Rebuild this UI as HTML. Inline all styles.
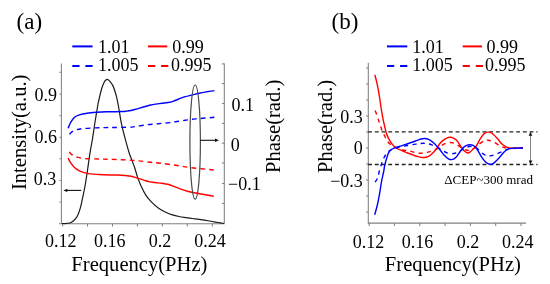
<!DOCTYPE html>
<html><head><meta charset="utf-8"><title>Plot</title><style>html,body{margin:0;padding:0;background:#fff;width:550px;height:284px;overflow:hidden}svg{display:block}</style></head><body><svg width="550" height="284" viewBox="0 0 550 284"><rect width="550" height="284" fill="#fff"/><g stroke="#808080" stroke-width="1.05" fill="none"><line x1="61.4" y1="63.5" x2="61.4" y2="224" /><line x1="59" y1="223.7" x2="224.8" y2="223.7" /><line x1="224.3" y1="63.5" x2="224.3" y2="223.9" /><line x1="59.5" y1="72.3" x2="61.4" y2="72.3" /><line x1="59.5" y1="94.1" x2="61.4" y2="94.1" /><line x1="59.5" y1="115.7" x2="61.4" y2="115.7" /><line x1="59.5" y1="137.3" x2="61.4" y2="137.3" /><line x1="59.5" y1="158.8" x2="61.4" y2="158.8" /><line x1="59.5" y1="180.4" x2="61.4" y2="180.4" /><line x1="59.5" y1="202.0" x2="61.4" y2="202.0" /><line x1="62.6" y1="223.7" x2="62.6" y2="226.6" /><line x1="87.5" y1="223.7" x2="87.5" y2="226.6" /><line x1="112.5" y1="223.7" x2="112.5" y2="226.6" /><line x1="137.4" y1="223.7" x2="137.4" y2="226.6" /><line x1="162.4" y1="223.7" x2="162.4" y2="226.6" /><line x1="187.3" y1="223.7" x2="187.3" y2="226.6" /><line x1="212.3" y1="223.7" x2="212.3" y2="226.6" /><line x1="221.9" y1="63.9" x2="224.3" y2="63.9" /><line x1="221.9" y1="83.6" x2="224.3" y2="83.6" /><line x1="221.9" y1="103.5" x2="224.3" y2="103.5" /><line x1="221.9" y1="123.3" x2="224.3" y2="123.3" /><line x1="221.9" y1="143.2" x2="224.3" y2="143.2" /><line x1="221.9" y1="163.0" x2="224.3" y2="163.0" /><line x1="221.9" y1="183.5" x2="224.3" y2="183.5" /><line x1="221.9" y1="203.4" x2="224.3" y2="203.4" /><line x1="368.3" y1="62.7" x2="368.3" y2="223.6" /><line x1="367.8" y1="223.1" x2="526" y2="223.1" /><line x1="366" y1="68.0" x2="368.3" y2="68.0" /><line x1="366" y1="84.0" x2="368.3" y2="84.0" /><line x1="366" y1="100.0" x2="368.3" y2="100.0" /><line x1="366" y1="116.0" x2="368.3" y2="116.0" /><line x1="366" y1="132.0" x2="368.3" y2="132.0" /><line x1="366" y1="148.0" x2="368.3" y2="148.0" /><line x1="366" y1="164.0" x2="368.3" y2="164.0" /><line x1="366" y1="180.0" x2="368.3" y2="180.0" /><line x1="366" y1="196.0" x2="368.3" y2="196.0" /><line x1="366" y1="212.1" x2="368.3" y2="212.1" /><line x1="369.2" y1="223.1" x2="369.2" y2="226.0" /><line x1="394.5" y1="223.1" x2="394.5" y2="226.0" /><line x1="419.8" y1="223.1" x2="419.8" y2="226.0" /><line x1="445.1" y1="223.1" x2="445.1" y2="226.0" /><line x1="470.4" y1="223.1" x2="470.4" y2="226.0" /><line x1="495.7" y1="223.1" x2="495.7" y2="226.0" /><line x1="521.0" y1="223.1" x2="521.0" y2="226.0" /></g><path d="M62.00 223.50 C62.67 223.50 64.72 223.58 66.00 223.50 C67.28 223.42 68.43 223.45 69.70 223.00 C70.97 222.55 72.32 221.97 73.60 220.80 C74.88 219.63 76.28 218.10 77.40 216.00 C78.52 213.90 79.38 211.43 80.30 208.20 C81.22 204.97 82.08 200.47 82.90 196.60 C83.72 192.73 84.45 189.30 85.20 185.00 C85.95 180.70 86.77 175.02 87.40 170.80 C88.03 166.58 88.48 163.18 89.00 159.70 C89.52 156.22 89.95 153.18 90.50 149.90 C91.05 146.62 91.58 144.40 92.30 140.00 C93.02 135.60 94.08 128.10 94.80 123.50 C95.52 118.90 96.07 115.65 96.60 112.40 C97.13 109.15 97.60 106.15 98.00 104.00 C98.40 101.85 98.58 101.33 99.00 99.50 C99.42 97.67 99.95 95.12 100.50 93.00 C101.05 90.88 101.58 88.77 102.30 86.80 C103.02 84.83 103.97 82.45 104.80 81.20 C105.63 79.95 106.48 79.30 107.30 79.30 C108.12 79.30 108.78 80.15 109.70 81.20 C110.62 82.25 111.97 84.05 112.80 85.60 C113.63 87.15 114.08 88.65 114.70 90.50 C115.32 92.35 115.85 93.95 116.50 96.70 C117.15 99.45 117.75 102.38 118.60 107.00 C119.45 111.62 120.28 118.28 121.60 124.40 C122.92 130.52 125.18 138.77 126.50 143.70 C127.82 148.63 128.62 151.28 129.50 154.00 C130.38 156.72 130.93 157.70 131.80 160.00 C132.67 162.30 133.73 164.90 134.70 167.80 C135.67 170.70 136.47 174.18 137.60 177.40 C138.73 180.62 140.05 184.02 141.50 187.10 C142.95 190.18 144.53 193.32 146.30 195.90 C148.07 198.48 150.00 200.52 152.10 202.60 C154.20 204.68 156.63 206.80 158.90 208.40 C161.17 210.00 163.43 211.12 165.70 212.20 C167.97 213.28 170.28 214.18 172.50 214.90 C174.72 215.62 176.75 216.05 179.00 216.50 C181.25 216.95 183.75 217.27 186.00 217.60 C188.25 217.93 190.30 218.20 192.50 218.50 C194.70 218.80 196.98 219.08 199.20 219.40 C201.42 219.72 203.62 220.05 205.80 220.40 C207.98 220.75 210.27 221.15 212.30 221.50 C214.33 221.85 216.05 222.17 218.00 222.50 C219.95 222.83 223.00 223.33 224.00 223.50" fill="none" stroke="#1a1a1a" stroke-width="1.2" stroke-linejoin="round"/><path d="M68.10 128.20 C68.53 127.23 69.63 124.23 70.70 122.40 C71.77 120.57 73.05 118.47 74.50 117.20 C75.95 115.93 77.30 115.47 79.40 114.80 C81.50 114.13 84.20 113.62 87.10 113.20 C90.00 112.78 93.57 112.53 96.80 112.30 C100.03 112.07 103.47 111.90 106.50 111.80 C109.53 111.70 112.48 111.75 115.00 111.70 C117.52 111.65 119.77 111.58 121.60 111.50 C123.43 111.42 124.43 111.37 126.00 111.20 C127.57 111.03 129.12 110.90 131.00 110.50 C132.88 110.10 135.22 109.38 137.30 108.80 C139.38 108.22 141.45 107.58 143.50 107.00 C145.55 106.42 147.57 105.78 149.60 105.30 C151.63 104.82 153.63 104.43 155.70 104.10 C157.77 103.77 159.95 103.57 162.00 103.30 C164.05 103.03 166.17 102.83 168.00 102.50 C169.83 102.17 171.20 101.88 173.00 101.30 C174.80 100.72 176.77 99.77 178.80 99.00 C180.83 98.23 183.08 97.35 185.20 96.70 C187.32 96.05 189.15 95.68 191.50 95.10 C193.85 94.52 196.73 93.75 199.30 93.20 C201.87 92.65 204.38 92.23 206.90 91.80 C209.42 91.37 213.15 90.80 214.40 90.60" fill="none" stroke="#0000ff" stroke-width="1.4" stroke-linejoin="round"/><path d="M68.10 136.20 C68.68 135.52 70.20 133.17 71.60 132.10 C73.00 131.03 74.57 130.38 76.50 129.80 C78.43 129.22 80.13 128.92 83.20 128.60 C86.27 128.28 91.27 128.07 94.90 127.90 C98.53 127.73 101.65 127.67 105.00 127.60 C108.35 127.53 110.93 127.57 115.00 127.50 C119.07 127.43 126.07 127.35 129.40 127.20 C132.73 127.05 132.13 127.00 135.00 126.60 C137.87 126.20 142.72 125.28 146.60 124.80 C150.48 124.32 154.42 124.07 158.30 123.70 C162.18 123.33 166.78 122.97 169.90 122.60 C173.02 122.23 174.48 121.88 177.00 121.50 C179.52 121.12 182.50 120.68 185.00 120.30 C187.50 119.92 189.72 119.48 192.00 119.20 C194.28 118.92 194.97 118.92 198.70 118.60 C202.43 118.28 211.78 117.52 214.40 117.30" fill="none" stroke="#0000ff" stroke-width="1.4" stroke-linejoin="round" stroke-dasharray="4.8 4.1" stroke-dashoffset="6.6"/><path d="M68.10 149.90 C68.68 150.65 70.05 153.18 71.60 154.40 C73.15 155.62 75.13 156.50 77.40 157.20 C79.67 157.90 81.65 158.30 85.20 158.60 C88.75 158.90 94.57 158.88 98.70 159.00 C102.83 159.12 104.88 159.12 110.00 159.30 C115.12 159.48 124.58 159.83 129.40 160.10 C134.22 160.37 135.38 160.53 138.90 160.90 C142.42 161.27 146.98 161.92 150.50 162.30 C154.02 162.68 155.78 162.70 160.00 163.20 C164.22 163.70 170.53 164.55 175.80 165.30 C181.07 166.05 185.27 166.92 191.60 167.70 C197.93 168.48 210.10 169.62 213.80 170.00" fill="none" stroke="#ff0000" stroke-width="1.4" stroke-linejoin="round" stroke-dasharray="4.8 4.1" stroke-dashoffset="6.6"/><path d="M68.10 158.20 C68.53 158.98 69.63 161.33 70.70 162.90 C71.77 164.47 73.05 166.27 74.50 167.60 C75.95 168.93 77.30 169.93 79.40 170.90 C81.50 171.87 83.88 172.80 87.10 173.40 C90.32 174.00 94.88 174.23 98.70 174.50 C102.52 174.77 106.78 174.92 110.00 175.00 C113.22 175.08 115.50 174.92 118.00 175.00 C120.50 175.08 122.78 175.28 125.00 175.50 C127.22 175.72 129.37 175.92 131.30 176.30 C133.23 176.68 134.42 177.13 136.60 177.80 C138.78 178.47 142.13 179.62 144.40 180.30 C146.67 180.98 147.93 181.47 150.20 181.90 C152.47 182.33 156.03 182.67 158.00 182.90 C159.97 183.13 160.35 183.07 162.00 183.30 C163.65 183.53 165.60 183.67 167.90 184.30 C170.20 184.93 173.17 186.13 175.80 187.10 C178.43 188.07 181.07 189.25 183.70 190.10 C186.33 190.95 188.43 191.52 191.60 192.20 C194.77 192.88 199.00 193.52 202.70 194.20 C206.40 194.88 211.95 195.95 213.80 196.30" fill="none" stroke="#ff0000" stroke-width="1.4" stroke-linejoin="round"/><ellipse cx="195.15" cy="142.05" rx="5.25" ry="57.05" fill="none" stroke="#4a4a4a" stroke-width="1.2"/><line x1="200" y1="140.3" x2="215.5" y2="140.3" stroke="#111" stroke-width="1.1"/><path d="M219 140.3 L215 138.6 L215 142.0 Z" fill="#111"/><line x1="81.2" y1="190.4" x2="66.5" y2="190.4" stroke="#111" stroke-width="1.1"/><path d="M63.3 190.4 L67.3 188.7 L67.3 192.1 Z" fill="#111"/><g stroke="#222" stroke-width="1.3" stroke-dasharray="3.9 2.83"><line x1="368.07" y1="131.8" x2="537.5" y2="131.8"/><line x1="368.07" y1="164.5" x2="537.5" y2="164.5"/></g><path d="M374.90 74.90 C375.25 76.30 376.42 80.72 377.00 83.30 C377.58 85.88 377.93 87.78 378.40 90.40 C378.87 93.02 379.33 95.98 379.80 99.00 C380.27 102.02 380.73 105.52 381.20 108.50 C381.67 111.48 382.07 114.08 382.60 116.90 C383.13 119.72 383.82 122.85 384.40 125.40 C384.98 127.95 385.57 130.37 386.10 132.20 C386.63 134.03 387.05 135.13 387.60 136.40 C388.15 137.67 388.70 138.60 389.40 139.80 C390.10 141.00 390.97 142.47 391.80 143.60 C392.63 144.73 393.37 145.70 394.40 146.60 C395.43 147.50 396.68 148.30 398.00 149.00 C399.32 149.70 400.70 150.13 402.30 150.80 C403.90 151.47 405.83 152.32 407.60 153.00 C409.37 153.68 411.33 154.33 412.90 154.90 C414.47 155.47 415.45 155.97 417.00 156.40 C418.55 156.83 420.70 157.37 422.20 157.50 C423.70 157.63 424.78 157.48 426.00 157.20 C427.22 156.92 428.28 156.57 429.50 155.80 C430.72 155.03 432.00 153.97 433.30 152.60 C434.60 151.23 436.10 149.25 437.30 147.60 C438.50 145.95 439.30 144.08 440.50 142.70 C441.70 141.32 443.25 140.15 444.50 139.30 C445.75 138.45 446.92 137.93 448.00 137.60 C449.08 137.27 449.73 137.00 451.00 137.30 C452.27 137.60 454.35 138.48 455.60 139.40 C456.85 140.32 457.57 141.50 458.50 142.80 C459.43 144.10 460.20 145.78 461.20 147.20 C462.20 148.62 463.40 150.33 464.50 151.30 C465.60 152.27 466.80 152.95 467.80 153.00 C468.80 153.05 469.57 152.30 470.50 151.60 C471.43 150.90 472.40 149.80 473.40 148.80 C474.40 147.80 475.32 147.33 476.50 145.60 C477.68 143.87 479.17 140.43 480.50 138.40 C481.83 136.37 483.25 134.45 484.50 133.40 C485.75 132.35 486.75 132.12 488.00 132.10 C489.25 132.08 490.37 132.13 492.00 133.30 C493.63 134.47 496.18 137.35 497.80 139.10 C499.42 140.85 500.38 142.55 501.70 143.80 C503.02 145.05 504.40 145.92 505.70 146.60 C507.00 147.28 508.12 147.63 509.50 147.90 C510.88 148.17 511.75 148.18 514.00 148.20 C516.25 148.22 521.50 148.03 523.00 148.00" fill="none" stroke="#ff0000" stroke-width="1.4" stroke-linejoin="round"/><path d="M374.90 109.90 C375.17 110.60 375.92 112.47 376.50 114.10 C377.08 115.73 377.85 118.07 378.40 119.70 C378.95 121.33 379.22 122.18 379.80 123.90 C380.38 125.62 381.20 128.23 381.90 130.00 C382.60 131.77 383.30 133.00 384.00 134.50 C384.70 136.00 385.38 137.70 386.10 139.00 C386.82 140.30 387.57 141.37 388.30 142.30 C389.03 143.23 389.68 143.85 390.50 144.60 C391.32 145.35 391.82 146.05 393.20 146.80 C394.58 147.55 396.98 148.53 398.80 149.10 C400.62 149.67 402.33 149.90 404.10 150.20 C405.87 150.50 407.67 150.53 409.40 150.90 C411.13 151.27 412.82 152.02 414.50 152.40 C416.18 152.78 417.95 153.08 419.50 153.20 C421.05 153.32 422.38 153.27 423.80 153.10 C425.22 152.93 426.68 152.57 428.00 152.20 C429.32 151.83 430.15 151.50 431.70 150.90 C433.25 150.30 435.70 149.48 437.30 148.60 C438.90 147.72 439.70 146.53 441.30 145.60 C442.90 144.67 445.03 143.47 446.90 143.00 C448.77 142.53 450.65 142.40 452.50 142.80 C454.35 143.20 456.28 144.43 458.00 145.40 C459.72 146.37 461.47 147.83 462.80 148.60 C464.13 149.37 465.05 149.72 466.00 150.00 C466.95 150.28 467.67 150.37 468.50 150.30 C469.33 150.23 470.17 149.90 471.00 149.60 C471.83 149.30 472.62 148.95 473.50 148.50 C474.38 148.05 475.13 147.78 476.30 146.90 C477.47 146.02 479.13 144.25 480.50 143.20 C481.87 142.15 483.17 141.08 484.50 140.60 C485.83 140.12 487.00 140.08 488.50 140.30 C490.00 140.52 491.55 140.98 493.50 141.90 C495.45 142.82 498.30 144.82 500.20 145.80 C502.10 146.78 503.27 147.37 504.90 147.80 C506.53 148.23 506.98 148.37 510.00 148.40 C513.02 148.43 520.83 148.07 523.00 148.00" fill="none" stroke="#ff0000" stroke-width="1.4" stroke-linejoin="round" stroke-dasharray="4.2 4.2" stroke-dashoffset="7.6"/><path d="M374.70 214.90 C375.20 213.00 376.82 207.47 377.70 203.50 C378.58 199.53 379.33 194.92 380.00 191.10 C380.67 187.28 381.10 183.78 381.70 180.60 C382.30 177.42 383.15 174.27 383.60 172.00 C384.05 169.73 384.13 168.42 384.40 167.00 C384.67 165.58 384.90 164.70 385.20 163.50 C385.50 162.30 385.68 161.48 386.20 159.80 C386.72 158.12 387.48 155.07 388.30 153.40 C389.12 151.73 389.92 150.77 391.10 149.80 C392.28 148.83 393.88 148.20 395.40 147.60 C396.92 147.00 398.45 146.75 400.20 146.20 C401.95 145.65 403.78 145.00 405.90 144.30 C408.02 143.60 411.05 142.65 412.90 142.00 C414.75 141.35 415.65 140.90 417.00 140.40 C418.35 139.90 419.75 139.32 421.00 139.00 C422.25 138.68 423.23 138.45 424.50 138.50 C425.77 138.55 427.13 138.63 428.60 139.30 C430.07 139.97 431.85 141.28 433.30 142.50 C434.75 143.72 436.10 145.27 437.30 146.60 C438.50 147.93 439.30 149.00 440.50 150.50 C441.70 152.00 443.17 154.20 444.50 155.60 C445.83 157.00 447.28 158.23 448.50 158.90 C449.72 159.57 450.58 159.82 451.80 159.60 C453.02 159.38 454.37 159.00 455.80 157.60 C457.23 156.20 458.97 153.03 460.40 151.20 C461.83 149.37 462.95 147.67 464.40 146.60 C465.85 145.53 467.63 145.00 469.10 144.80 C470.57 144.60 472.00 144.87 473.20 145.40 C474.40 145.93 475.00 146.23 476.30 148.00 C477.60 149.77 479.50 153.70 481.00 156.00 C482.50 158.30 483.88 160.42 485.30 161.80 C486.72 163.18 488.13 164.05 489.50 164.30 C490.87 164.55 491.85 164.43 493.50 163.30 C495.15 162.17 497.63 159.38 499.40 157.50 C501.17 155.62 502.78 153.32 504.10 152.00 C505.42 150.68 506.32 150.17 507.30 149.60 C508.28 149.03 508.72 148.85 510.00 148.60 C511.28 148.35 512.83 148.20 515.00 148.10 C517.17 148.00 521.67 148.02 523.00 148.00" fill="none" stroke="#0000ff" stroke-width="1.4" stroke-linejoin="round"/><path d="M374.70 182.70 C375.20 181.85 376.88 179.72 377.70 177.60 C378.52 175.48 378.88 172.53 379.60 170.00 C380.32 167.47 381.25 164.48 382.00 162.40 C382.75 160.32 383.40 158.90 384.10 157.50 C384.80 156.10 385.38 155.07 386.20 154.00 C387.02 152.93 387.95 151.93 389.00 151.10 C390.05 150.27 391.30 149.53 392.50 149.00 C393.70 148.47 394.95 148.25 396.20 147.90 C397.45 147.55 398.83 147.17 400.00 146.90 C401.17 146.63 401.63 146.58 403.20 146.30 C404.77 146.02 407.28 145.57 409.40 145.20 C411.52 144.83 414.13 144.38 415.90 144.10 C417.67 143.82 418.68 143.63 420.00 143.50 C421.32 143.37 422.47 143.25 423.80 143.30 C425.13 143.35 426.68 143.55 428.00 143.80 C429.32 144.05 430.15 144.23 431.70 144.80 C433.25 145.37 435.70 146.38 437.30 147.20 C438.90 148.02 439.57 148.72 441.30 149.70 C443.03 150.68 445.58 152.47 447.70 153.10 C449.82 153.73 452.15 153.73 454.00 153.50 C455.85 153.27 457.20 152.48 458.80 151.70 C460.40 150.92 461.88 149.67 463.60 148.80 C465.32 147.93 467.53 146.83 469.10 146.50 C470.67 146.17 471.80 146.57 473.00 146.80 C474.20 147.03 474.88 146.95 476.30 147.90 C477.72 148.85 480.00 151.28 481.50 152.50 C483.00 153.72 484.00 154.62 485.30 155.20 C486.60 155.78 487.85 156.03 489.30 156.00 C490.75 155.97 491.93 155.72 494.00 155.00 C496.07 154.28 499.62 152.60 501.70 151.70 C503.78 150.80 505.12 150.08 506.50 149.60 C507.88 149.12 507.25 149.07 510.00 148.80 C512.75 148.53 520.83 148.13 523.00 148.00" fill="none" stroke="#0000ff" stroke-width="1.4" stroke-linejoin="round" stroke-dasharray="4.2 4.2" stroke-dashoffset="7.6"/><line x1="530.5" y1="134.5" x2="530.5" y2="162" stroke="#808080" stroke-width="0.95"/><path d="M530.5 131.8 L528.7 135.8 L532.3 135.8 Z" fill="#111"/><path d="M530.5 164.6 L528.7 160.6 L532.3 160.6 Z" fill="#111"/><line x1="72.3" y1="46.4" x2="92.6" y2="46.4" stroke="#0000ff" stroke-width="2"/><line x1="72.3" y1="66.1" x2="92.6" y2="66.1" stroke="#0000ff" stroke-width="2" stroke-dasharray="7.2 5.9"/><line x1="148.0" y1="46.4" x2="167.3" y2="46.4" stroke="#ff0000" stroke-width="2"/><line x1="148.0" y1="66.1" x2="168.8" y2="66.1" stroke="#ff0000" stroke-width="2" stroke-dasharray="7.2 5.9"/><line x1="387.0" y1="46.4" x2="407.3" y2="46.4" stroke="#0000ff" stroke-width="2"/><line x1="387.0" y1="66.1" x2="407.3" y2="66.1" stroke="#0000ff" stroke-width="2" stroke-dasharray="7.2 5.9"/><line x1="462.7" y1="46.4" x2="482.0" y2="46.4" stroke="#ff0000" stroke-width="2"/><line x1="462.7" y1="66.1" x2="483.5" y2="66.1" stroke="#ff0000" stroke-width="2" stroke-dasharray="7.2 5.9"/><g fill="#000" font-family="'Liberation Serif', 'Times New Roman', serif"><text x="16.60" y="28.90" font-size="23" text-anchor="start">(a)</text><text x="331.60" y="28.90" font-size="23" text-anchor="start">(b)</text><text x="98.00" y="52.80" font-size="18.0" text-anchor="start">1.01</text><text x="98.00" y="70.90" font-size="18.0" text-anchor="start">1.005</text><text x="172.30" y="52.80" font-size="18.0" text-anchor="start">0.99</text><text x="170.90" y="70.90" font-size="18.0" text-anchor="start">0.995</text><text x="412.30" y="52.80" font-size="18.0" text-anchor="start">1.01</text><text x="412.30" y="70.90" font-size="18.0" text-anchor="start">1.005</text><text x="486.60" y="52.80" font-size="18.0" text-anchor="start">0.99</text><text x="485.10" y="70.90" font-size="18.0" text-anchor="start">0.995</text><text x="56.90" y="100.60" font-size="18" text-anchor="end">0.9</text><text x="56.90" y="142.60" font-size="18" text-anchor="end">0.6</text><text x="56.30" y="185.20" font-size="18" text-anchor="end">0.3</text><text x="231.50" y="110.60" font-size="18" text-anchor="start">0.1</text><text x="230.80" y="151.20" font-size="18" text-anchor="start">0</text><text x="228.00" y="189.80" font-size="18" text-anchor="start">−0.1</text><text x="60.70" y="247.40" font-size="18" text-anchor="middle">0.12</text><text x="109.70" y="247.40" font-size="18" text-anchor="middle">0.16</text><text x="160.00" y="247.40" font-size="18" text-anchor="middle">0.2</text><text x="210.00" y="247.40" font-size="18" text-anchor="middle">0.24</text><text x="368.60" y="247.60" font-size="18" text-anchor="middle">0.12</text><text x="417.50" y="247.60" font-size="18" text-anchor="middle">0.16</text><text x="467.90" y="247.60" font-size="18" text-anchor="middle">0.2</text><text x="517.70" y="247.60" font-size="18" text-anchor="middle">0.24</text><text x="362.80" y="122.50" font-size="18" text-anchor="end">0.3</text><text x="362.80" y="154.40" font-size="18" text-anchor="end">0</text><text x="362.80" y="187.00" font-size="18" text-anchor="end">−0.3</text><text x="139.40" y="271.00" font-size="20.6" text-anchor="middle">Frequency(PHz)</text><text x="452.90" y="271.20" font-size="20.6" text-anchor="middle">Frequency(PHz)</text><text x="0.00" y="0.00" font-size="20.6" text-anchor="middle" transform="translate(26.4 132.3) rotate(-90)">Intensity(a.u.)</text><text x="0.00" y="0.00" font-size="20.6" text-anchor="middle" transform="translate(279.6 126.3) rotate(-90)">Phase(rad.)</text><text x="0.00" y="0.00" font-size="20.6" text-anchor="middle" transform="translate(332.0 126.4) rotate(-90)">Phase(rad.)</text><text x="488.60" y="183.90" font-size="13" text-anchor="middle">ΔCEP~300 mrad</text></g></svg></body></html>
